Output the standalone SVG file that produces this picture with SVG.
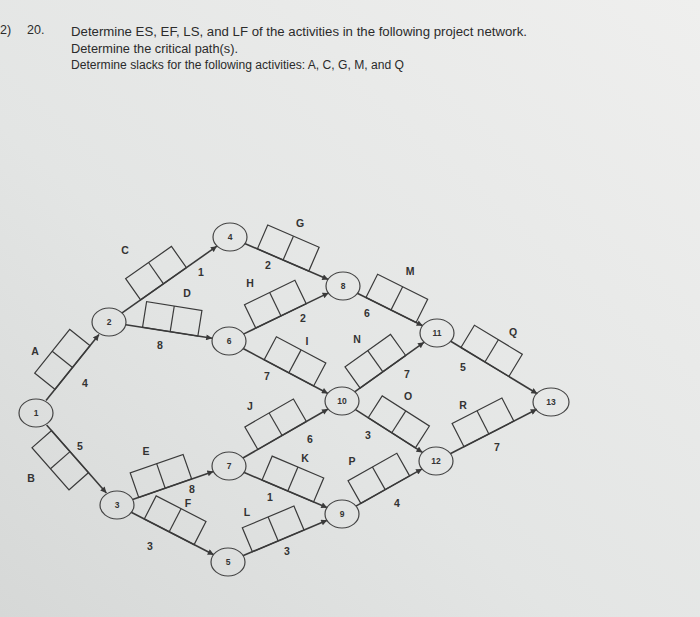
<svg xmlns="http://www.w3.org/2000/svg" width="700" height="617" viewBox="0 0 700 617">
<defs>
<linearGradient id="bg" x1="1" y1="0" x2="0" y2="1">
<stop offset="0" stop-color="#efefee"/>
<stop offset="0.6" stop-color="#e3e5e4"/>
<stop offset="1" stop-color="#d6d8d7"/>
</linearGradient>
<marker id="ah" viewBox="0 0 10 10" refX="10" refY="5" markerWidth="7" markerHeight="6" markerUnits="userSpaceOnUse" orient="auto">
<path d="M0,0 L10,5 L0,10 z" fill="#3a3a3a"/>
</marker>
<g id="box"><rect x="-28" y="-26" width="56" height="26"/><line x1="0" y1="-26" x2="0" y2="0"/></g>
<g id="boxb"><rect x="-28" y="0" width="56" height="26"/><line x1="0" y1="0" x2="0" y2="26"/></g>
</defs>
<style>
.t{font-family:"Liberation Sans",Arial,sans-serif;fill:#2b2b2b;font-size:12.5px}
.lb{font-family:"Liberation Sans",Arial,sans-serif;fill:#333;font-size:10.5px;font-weight:bold;text-anchor:middle}
.nn{font-family:"Liberation Sans",Arial,sans-serif;fill:#333;font-size:8.5px;font-weight:bold;text-anchor:middle}
.node ellipse{fill:none;stroke:#444;stroke-width:1.2}
.conn line{stroke:#3a3a3a;stroke-width:1.6;marker-end:url(#ah)}
.bx{fill:none;stroke:#3a3a3a;stroke-width:1.2}
</style>
<rect width="700" height="617" fill="url(#bg)"/>
<g id="title">
<text class="t" x="0" y="34">2)</text>
<text class="t" x="27" y="34">20.</text>
<text class="t" x="71" y="36" textLength="456" lengthAdjust="spacingAndGlyphs">Determine ES, EF, LS, and LF of the activities in the following project network.</text>
<text class="t" x="71" y="52.5" textLength="167" lengthAdjust="spacingAndGlyphs">Determine the critical path(s).</text>
<text class="t" x="71" y="68.5" textLength="333" lengthAdjust="spacingAndGlyphs">Determine slacks for the following activities: A, C, G, M, and Q</text>
</g>
<g id="connectors" class="conn">
<line x1="46.0" y1="400.5" x2="99.0" y2="334.5"/>
<line x1="46.6" y1="425.0" x2="106.4" y2="493.0"/>
<line x1="122.1" y1="312.8" x2="216.9" y2="246.2"/>
<line x1="125.8" y1="324.7" x2="212.2" y2="338.3"/>
<line x1="132.6" y1="499.6" x2="213.4" y2="471.4"/>
<line x1="131.2" y1="512.3" x2="213.8" y2="554.7"/>
<line x1="244.7" y1="243.4" x2="328.3" y2="279.6"/>
<line x1="243.4" y1="334.1" x2="328.6" y2="292.9"/>
<line x1="243.1" y1="348.5" x2="327.9" y2="393.5"/>
<line x1="242.9" y1="458.0" x2="328.1" y2="409.0"/>
<line x1="243.7" y1="472.3" x2="327.3" y2="507.7"/>
<line x1="242.8" y1="555.8" x2="327.2" y2="520.2"/>
<line x1="357.3" y1="293.2" x2="422.7" y2="325.8"/>
<line x1="355.0" y1="391.7" x2="424.0" y2="342.3"/>
<line x1="355.5" y1="409.6" x2="422.5" y2="452.4"/>
<line x1="355.9" y1="506.1" x2="422.1" y2="468.9"/>
<line x1="450.7" y1="341.3" x2="537.3" y2="393.7"/>
<line x1="450.2" y1="453.7" x2="536.8" y2="409.3"/>
</g>
<g id="activities" class="bx">
<g id="act-A"><use href="#box" transform="translate(72.5,367.5) rotate(-51.3)"/></g>
<g id="act-B"><use href="#boxb" transform="translate(70,451.6) rotate(48.6)"/></g>
<g id="act-C"><use href="#box" transform="translate(163.5,283.8) rotate(-35.1)"/></g>
<g id="act-D"><use href="#box" transform="translate(170.2,331.7) rotate(9)"/></g>
<g id="act-E"><use href="#box" transform="translate(165.2,488.2) rotate(-19.2)"/></g>
<g id="act-F"><use href="#box" transform="translate(169.2,531.8) rotate(27.2)"/></g>
<g id="act-G"><use href="#box" transform="translate(283.1,260) rotate(23.4)"/></g>
<g id="act-H"><use href="#box" transform="translate(281,315.9) rotate(-25.8)"/></g>
<g id="act-I"><use href="#box" transform="translate(288.9,372.8) rotate(28)"/></g>
<g id="act-J"><use href="#box" transform="translate(282.1,435.5) rotate(-29.9)"/></g>
<g id="act-K"><use href="#box" transform="translate(287.8,491) rotate(23)"/></g>
<g id="act-L"><use href="#box" transform="translate(278.2,540.9) rotate(-22.8)"/></g>
<g id="act-M"><use href="#box" transform="translate(391,310) rotate(26.6)"/></g>
<g id="act-N"><use href="#box" transform="translate(382.9,371.8) rotate(-35.6)"/></g>
<g id="act-O"><use href="#box" transform="translate(391.8,432.8) rotate(32.6)"/></g>
<g id="act-P"><use href="#box" transform="translate(385.2,489.6) rotate(-29.4)"/></g>
<g id="act-Q"><use href="#box" transform="translate(484.9,362) rotate(31.2)"/></g>
<g id="act-R"><use href="#box" transform="translate(488.9,433.9) rotate(-27.2)"/></g>
</g>
<g id="labels">
<text class="lb" x="35" y="355">A</text><text class="lb" x="85" y="387">4</text>
<text class="lb" x="31" y="482">B</text><text class="lb" x="80" y="450">5</text>
<text class="lb" x="125" y="254">C</text><text class="lb" x="201" y="276">1</text>
<text class="lb" x="187" y="297">D</text><text class="lb" x="160" y="349">8</text>
<text class="lb" x="146" y="455">E</text><text class="lb" x="192" y="493">8</text>
<text class="lb" x="188" y="507">F</text><text class="lb" x="150" y="550">3</text>
<text class="lb" x="300" y="227">G</text><text class="lb" x="268" y="269">2</text>
<text class="lb" x="250" y="287">H</text><text class="lb" x="303" y="322">2</text>
<text class="lb" x="307" y="345">I</text><text class="lb" x="267" y="380">7</text>
<text class="lb" x="250" y="410">J</text><text class="lb" x="310" y="443">6</text>
<text class="lb" x="305" y="462">K</text><text class="lb" x="270" y="501">1</text>
<text class="lb" x="247" y="516">L</text><text class="lb" x="287" y="555">3</text>
<text class="lb" x="410" y="275">M</text><text class="lb" x="367" y="317">6</text>
<text class="lb" x="357" y="343">N</text><text class="lb" x="407" y="378">7</text>
<text class="lb" x="408" y="400">O</text><text class="lb" x="368" y="439">3</text>
<text class="lb" x="352" y="465">P</text><text class="lb" x="397" y="507">4</text>
<text class="lb" x="513" y="336">Q</text><text class="lb" x="463" y="371">5</text>
<text class="lb" x="463" y="409">R</text><text class="lb" x="497" y="451">7</text>
</g>
<g id="n1" class="node"><ellipse cx="36" cy="413" rx="17" ry="14"/><text class="nn" x="36" y="416">1</text></g>
<g id="n2" class="node"><ellipse cx="109" cy="322" rx="17" ry="14"/><text class="nn" x="109" y="325">2</text></g>
<g id="n3" class="node"><ellipse cx="117" cy="505" rx="17" ry="14"/><text class="nn" x="117" y="508">3</text></g>
<g id="n4" class="node"><ellipse cx="230" cy="237" rx="17" ry="14"/><text class="nn" x="230" y="240">4</text></g>
<g id="n5" class="node"><ellipse cx="228" cy="562" rx="17" ry="14"/><text class="nn" x="228" y="565">5</text></g>
<g id="n6" class="node"><ellipse cx="229" cy="341" rx="17" ry="14"/><text class="nn" x="229" y="344">6</text></g>
<g id="n7" class="node"><ellipse cx="229" cy="466" rx="17" ry="14"/><text class="nn" x="229" y="469">7</text></g>
<g id="n8" class="node"><ellipse cx="343" cy="286" rx="17" ry="14"/><text class="nn" x="343" y="289">8</text></g>
<g id="n9" class="node"><ellipse cx="342" cy="514" rx="17" ry="14"/><text class="nn" x="342" y="517">9</text></g>
<g id="n10" class="node"><ellipse cx="342" cy="401" rx="17" ry="14"/><text class="nn" x="342" y="404">10</text></g>
<g id="n11" class="node"><ellipse cx="437" cy="333" rx="17" ry="14"/><text class="nn" x="437" y="336">11</text></g>
<g id="n12" class="node"><ellipse cx="436" cy="461" rx="17" ry="14"/><text class="nn" x="436" y="464">12</text></g>
<g id="n13" class="node"><ellipse cx="551" cy="402" rx="18" ry="14"/><text class="nn" x="551" y="405">13</text></g>
</svg>
